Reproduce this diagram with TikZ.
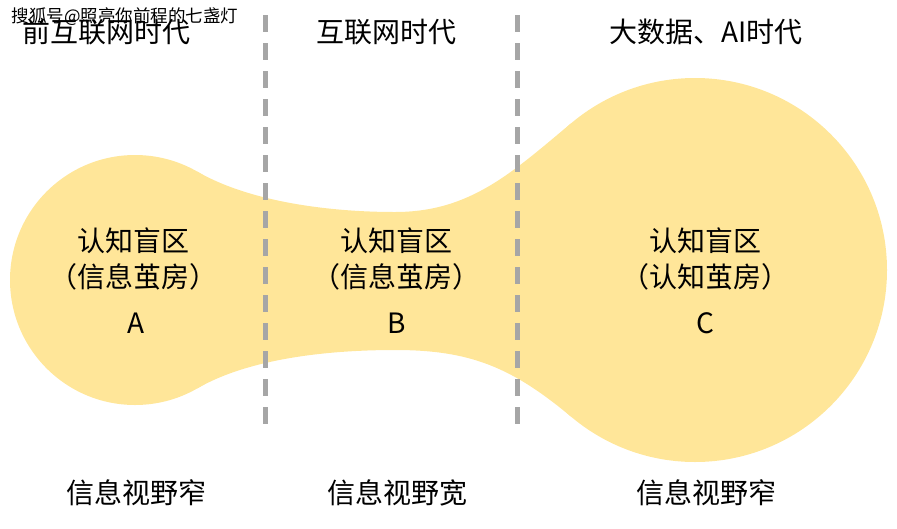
\documentclass[tikz,border=0pt]{standalone}
\usepackage{fontspec}
\setmainfont{Noto Sans CJK SC}
\begin{document}
\begin{tikzpicture}[x=1pt,y=-1pt,
  lbl/.style={font=\fontsize{28}{36}\selectfont,inner sep=0pt,align=center},
  sep/.style={draw=black!35,line width=5pt,dash pattern=on 17pt off 11pt}]
\useasboundingbox (0,0) rectangle (897,528);
\definecolor{blob}{HTML}{FFE699}
\fill[blob] (135,280) circle (125);
\fill[blob] (695,270) circle (192);
\fill[blob] (135,280) -- (197.5,171.7) .. controls (250,202) and (330,212) .. (395,212) .. controls (470,212) and (511.6,172.9) .. (571.6,122.9) -- (695,270) -- (571.6,417.1) .. controls (511.6,367) and (470,350) .. (395,350) .. controls (330,350) and (250,358) .. (197.5,388.3) -- cycle;
\coordinate (s1a) at (265,15); \coordinate (s1b) at (265,432);
\coordinate (s2a) at (517,15); \coordinate (s2b) at (517,432);
\draw[sep] (s1a) -- (s1b);
\draw[sep] (s2a) -- (s2b);
\node[lbl] (t1) at (106,32) {前互联网时代};
\node[lbl] (t2) at (386,32) {互联网时代};
\node[lbl] (t3) at (706,32) {大数据、AI时代};
\node[lbl] (wm) at (125,17) {\fontsize{17.5}{20}\selectfont 搜狐号@照亮你前程的七盏灯};
\node[lbl] (a) at (133,259) {认知盲区\\（信息茧房）};
\node[lbl] (b) at (396,259) {认知盲区\\（信息茧房）};
\node[lbl] (c) at (705,259) {认知盲区\\（认知茧房）};
\node[lbl] (al) at (136,323) {A};
\node[lbl] (bl) at (397,323) {B};
\node[lbl] (cl) at (705,323) {C};
\node[lbl] (f1) at (136,493) {信息视野窄};
\node[lbl] (f2) at (397,493) {信息视野宽};
\node[lbl] (f3) at (706,493) {信息视野窄};
\end{tikzpicture}
\end{document}
